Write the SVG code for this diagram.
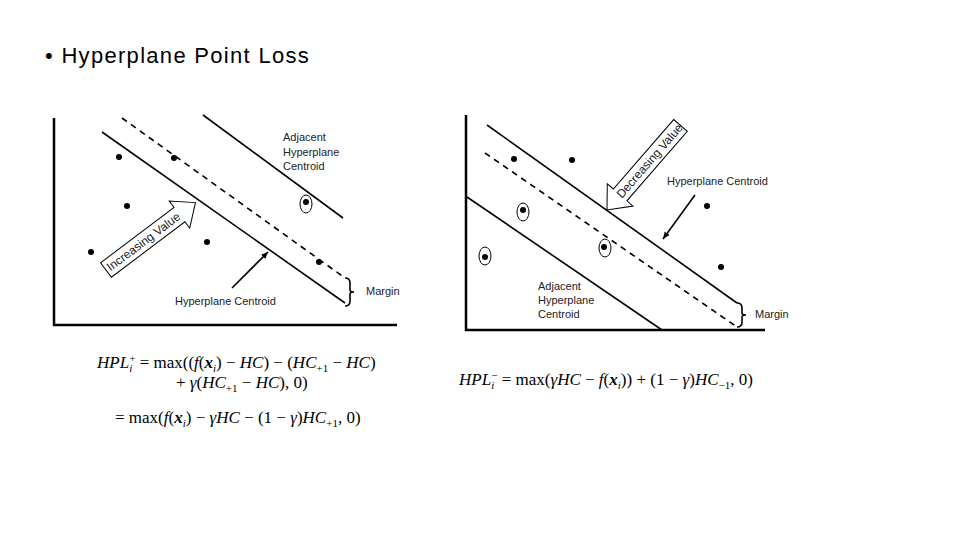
<svg xmlns="http://www.w3.org/2000/svg" width="960" height="540" viewBox="0 0 960 540">
<defs>
<marker id="ah" markerWidth="8" markerHeight="8" refX="7" refY="4" orient="auto" markerUnits="userSpaceOnUse"><path d="M0,1 L7,4 L0,7 Z" fill="#000"/></marker>
</defs>
<style>
.ln{stroke:#000;stroke-width:1.6;fill:none}
.ax{stroke:#000;stroke-width:2.5;fill:none}
.ds{stroke:#000;stroke-width:1.6;fill:none;stroke-dasharray:6,5}
.lb{font-family:"Liberation Sans",Arial,sans-serif;font-size:11px;fill:#222}
.al{font-family:"Liberation Sans",Arial,sans-serif;font-size:12px;fill:#222}
.eq{font-family:"Liberation Serif","DejaVu Serif",serif;font-size:17px;fill:#000}
.it{font-style:italic}
.bd{font-weight:bold;font-style:italic}
.dot{fill:#000}
.ring{fill:none;stroke:#000;stroke-width:1}
.blk{fill:#fff;stroke:#000;stroke-width:1}
</style>
<rect width="960" height="540" fill="#fff"/>
<text x="45" y="63" font-family="Liberation Sans,Arial,sans-serif" font-size="22" letter-spacing="1.3" fill="#000">• Hyperplane Point Loss</text>

<g id="left-panel">
<path class="ax" d="M54,118 V325 H397"/>
<g id="connectors-left">
<line class="ln" x1="102" y1="132" x2="345" y2="303"/>
<line class="ds" x1="122" y1="118" x2="345" y2="278"/>
<line class="ln" x1="203" y1="115" x2="343" y2="218"/>
<line class="ln" x1="232" y1="288" x2="268" y2="252" marker-end="url(#ah)"/>
<path class="ln" stroke-width="1" d="M345,278 q5,0 5,5 v7 q0,2 4,2 q-4,0 -4,2 v7 q0,5 -5,5"/>
</g>
<circle class="dot" cx="119" cy="157" r="3"/>
<circle class="dot" cx="174" cy="158" r="3"/>
<circle class="dot" cx="127" cy="206" r="3"/>
<circle class="dot" cx="207" cy="242" r="3"/>
<circle class="dot" cx="91" cy="252" r="3"/>
<circle class="dot" cx="319" cy="262" r="3"/>
<circle class="dot" cx="306" cy="202" r="3"/>
<ellipse class="ring" cx="306" cy="204" rx="6" ry="9"/>
<g id="inc-arrow" transform="translate(106,270) rotate(-37)">
<path class="blk" d="M0,-9 H92 V-17 L112,0 L92,17 V9 H0 Z"/>
<text class="al" x="47" y="4" text-anchor="middle">Increasing Value</text>
</g>
<text class="lb" x="283" y="141">Adjacent</text>
<text class="lb" x="283" y="156">Hyperplane</text>
<text class="lb" x="283" y="170">Centroid</text>
<text class="lb" x="175" y="305">Hyperplane Centroid</text>
<text class="lb" x="366" y="295">Margin</text>
</g>

<g id="right-panel">
<path class="ax" d="M466,115 V330 H765"/>
<g id="connectors-right">
<line class="ln" x1="487" y1="125" x2="737" y2="303"/>
<line class="ds" x1="485" y1="153" x2="737" y2="327"/>
<line class="ln" x1="467" y1="197" x2="662" y2="330"/>
<line class="ln" x1="695" y1="195" x2="663" y2="239" marker-end="url(#ah)"/>
<path class="ln" stroke-width="1" d="M737,303 q5,0 5,5 v5 q0,2 4,2 q-4,0 -4,2 v5 q0,5 -5,5"/>
</g>
<circle class="dot" cx="514" cy="159" r="3"/>
<circle class="dot" cx="572" cy="160" r="3"/>
<circle class="dot" cx="707" cy="206" r="3"/>
<circle class="dot" cx="721" cy="267" r="3"/>
<circle class="dot" cx="523" cy="210" r="3"/>
<ellipse class="ring" cx="523" cy="212" rx="6" ry="9"/>
<circle class="dot" cx="604" cy="247" r="3"/>
<ellipse class="ring" cx="605" cy="248" rx="6" ry="9"/>
<circle class="dot" cx="485" cy="257" r="3"/>
<ellipse class="ring" cx="485" cy="256" rx="6" ry="9"/>
<g id="dec-arrow" transform="translate(607,210) rotate(-49)">
<path class="blk" d="M0,0 L20,-17 V-9 H112 V9 H20 V17 Z"/>
<text class="al" x="65" y="4" text-anchor="middle">Decreasing Value</text>
</g>
<text class="lb" x="667" y="185">Hyperplane Centroid</text>
<text class="lb" x="538" y="290">Adjacent</text>
<text class="lb" x="538" y="304">Hyperplane</text>
<text class="lb" x="538" y="318">Centroid</text>
<text class="lb" x="755" y="318">Margin</text>
</g>

<g id="equations">
<text class="eq" x="97" y="368"><tspan class="it">HPL</tspan><tspan class="it" font-size="11" dy="4">i</tspan><tspan font-size="11" dx="-3" dy="-10">+</tspan><tspan dy="6"> = max((</tspan><tspan class="it">f</tspan>(<tspan class="bd">x</tspan><tspan class="it" font-size="11" dy="4">i</tspan><tspan dy="-4">) − </tspan><tspan class="it">HC</tspan>) − (<tspan class="it">HC</tspan><tspan font-size="11" dy="4">+1</tspan><tspan dy="-4"> − </tspan><tspan class="it">HC</tspan>)</text>
<text class="eq" x="176" y="388">+ <tspan class="it">γ</tspan>(<tspan class="it">HC</tspan><tspan font-size="11" dy="4">+1</tspan><tspan dy="-4"> − </tspan><tspan class="it">HC</tspan>), 0)</text>
<text class="eq" x="115" y="423">= max(<tspan class="it">f</tspan>(<tspan class="bd">x</tspan><tspan class="it" font-size="11" dy="4">i</tspan><tspan dy="-4">) − </tspan><tspan class="it">γHC</tspan> − (1 − <tspan class="it">γ</tspan>)<tspan class="it">HC</tspan><tspan font-size="11" dy="4">+1</tspan><tspan dy="-4">, 0)</tspan></text>
<text class="eq" x="459" y="385"><tspan class="it">HPL</tspan><tspan class="it" font-size="11" dy="4">i</tspan><tspan font-size="11" dx="-3" dy="-10">−</tspan><tspan dy="6"> = max(</tspan><tspan class="it">γHC</tspan> − <tspan class="it">f</tspan>(<tspan class="bd">x</tspan><tspan class="it" font-size="11" dy="4">i</tspan><tspan dy="-4">)) + (1 − </tspan><tspan class="it">γ</tspan>)<tspan class="it">HC</tspan><tspan font-size="11" dy="4">−1</tspan><tspan dy="-4">, 0)</tspan></text>
</g>
</svg>
